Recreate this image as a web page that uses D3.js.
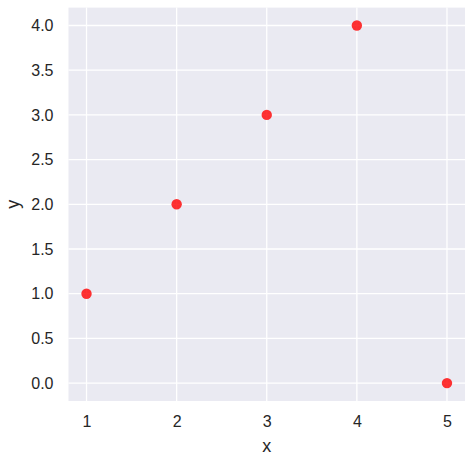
<!DOCTYPE html>
<html>
<head>
<meta charset="utf-8">
<script src="https://cdn.jsdelivr.net/npm/d3@7"></script>
<style>
  body { margin: 0; background: #fff; }
  .tick text { font-family: "Liberation Sans", Arial, sans-serif; font-size: 16px; fill: #262626; }
</style>
</head>
<body>
<div class="chart"></div>
<script>
var xValues = [1, 2, 3, 4, 5];
var yValues = [1, 2, 3, 4, 0];
var xTicks = [1, 2, 3, 4, 5];
var yTicks = [0, 0.5, 1, 1.5, 2, 2.5, 3, 3.5, 4];

var margin = { top: 7.6, right: 9, bottom: 61, left: 68.5 };
var width = 474 - margin.left - margin.right;
var height = 462 - margin.top - margin.bottom;

var svg = d3.select('.chart')
	.append('svg')
	.attr('width', 474)
	.attr('height', 462)
	.append('g')
	.attr('transform', 'translate(' + margin.left + ',' + margin.top + ')');

var xScale = d3.scaleLinear()
	.domain([0.8, 5.2])
	.range([0, width]);

var yScale = d3.scaleLinear()
	.domain([-0.2, 4.2])
	.range([height, 0]);

// background
svg.append('rect')
	.attr('width', width)
	.attr('height', height)
	.attr('fill', '#eaeaf2');

// grid
svg.append('g')
	.selectAll('line')
	.data(xTicks)
	.enter().append('line')
	.attr('x1', function (d) { return xScale(d); })
	.attr('x2', function (d) { return xScale(d); })
	.attr('y1', 0)
	.attr('y2', height)
	.attr('stroke', '#fff')
	.attr('stroke-width', 1.3);

svg.append('g')
	.selectAll('line')
	.data(yTicks)
	.enter().append('line')
	.attr('y1', function (d) { return yScale(d); })
	.attr('y2', function (d) { return yScale(d); })
	.attr('x1', 0)
	.attr('x2', width)
	.attr('stroke', '#fff')
	.attr('stroke-width', 1.3);

// axes
var xAxis = d3.axisBottom(xScale)
	.tickValues(xTicks)
	.tickFormat(d3.format('d'))
	.tickSize(0)
	.tickPadding(15);

var yAxis = d3.axisLeft(yScale)
	.tickValues(yTicks)
	.tickFormat(d3.format('.1f'))
	.tickSize(0)
	.tickPadding(15);

svg.append('g')
	.attr('class', 'x axis')
	.attr('transform', 'translate(0,' + height + ')')
	.call(xAxis)
	.call(function (g) { g.select('.domain').remove(); });

svg.append('g')
	.attr('class', 'y axis')
	.call(yAxis)
	.call(function (g) { g.select('.domain').remove(); });

// axis labels
svg.append('text')
	.attr('x', width / 2)
	.attr('y', height + 51)
	.attr('text-anchor', 'middle')
	.attr('font-family', '"Liberation Sans", Arial, sans-serif')
	.attr('font-size', '18px')
	.attr('fill', '#262626')
	.text('x');

svg.append('text')
	.attr('transform', 'translate(' + (-50) + ',' + (height / 2) + ') rotate(-90)')
	.attr('text-anchor', 'middle')
	.attr('font-family', '"Liberation Sans", Arial, sans-serif')
	.attr('font-size', '18px')
	.attr('fill', '#262626')
	.text('y');

// points
svg.append('g')
	.selectAll('circle')
	.data(xValues)
	.enter().append('circle')
	.attr('cx', function (d) { return xScale(d); })
	.attr('cy', function (d, i) { return yScale(yValues[i]); })
	.attr('r', 5.2)
	.attr('fill', 'red')
	.attr('fill-opacity', 0.8);
</script>
</body>
</html>
